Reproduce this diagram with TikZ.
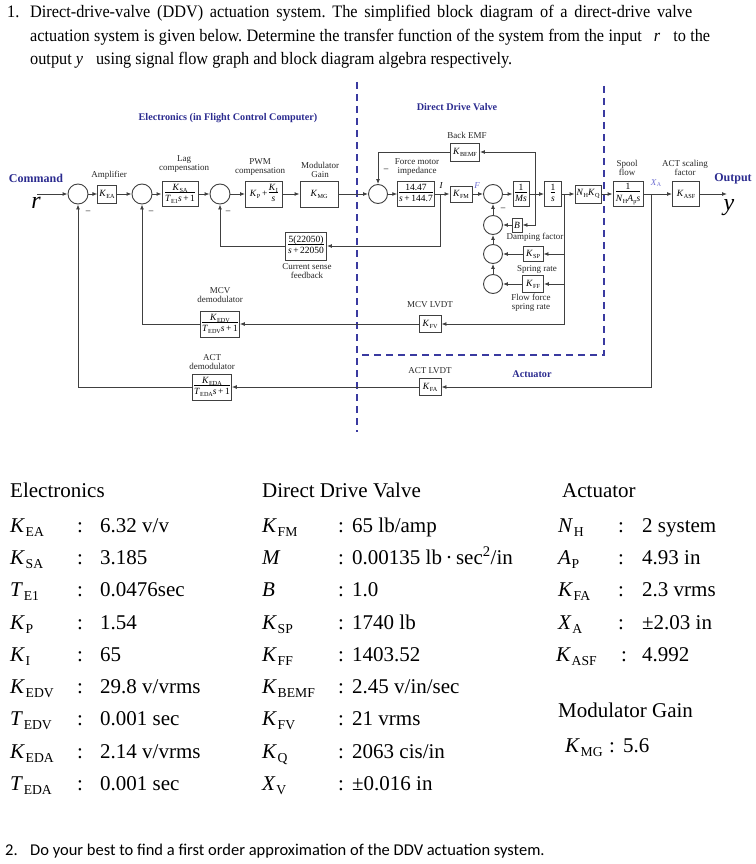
\documentclass[tikz,border=0pt]{standalone}
\usepackage{fontspec}
\setmainfont{Liberation Serif}
\newfontfamily\condf[FakeStretch=0.93]{Liberation Serif}
\newfontfamily\carl{Carlito}
\usetikzlibrary{arrows.meta}
\definecolor{ln}{HTML}{404040}
\definecolor{dblue}{HTML}{2B2B8F}
\definecolor{lblue}{HTML}{6B6BD0}
\definecolor{dashc}{HTML}{3A3AA0}
\newcommand\sub[1]{\raisebox{-0.45ex}{\scalebox{0.65}{#1}}}
\newcommand\KK[2]{\textit{#1}\kern0.03em\sub{#2}}
\newcommand\fr[2]{\begin{tabular}{@{}c@{}}#1\\[-1.5pt]\hline\rule{0pt}{1.05em}#2\end{tabular}}
\tikzset{
  blk/.style={draw=ln, line width=0.9pt, fill=white, inner sep=1.5pt, font=\fontsize{9.5}{10}\selectfont},
  sumc/.style={draw=ln, line width=0.9pt, circle, minimum size=19pt, inner sep=0pt},
  ar/.style={-{Latex[length=5pt,width=4pt]}, draw=ln, line width=0.9pt},
  lbl/.style={font=\fontsize{9}{9.5}\selectfont, align=center, text=black!85},
  ttl/.style={font=\fontsize{10.2}{11}\selectfont\bfseries, text=dblue},
  big/.style={font=\fontsize{12}{13}\selectfont\bfseries, text=dblue},
  dsh/.style={draw=dashc, line width=1.2pt, dash pattern=on 7pt off 5pt},
  top/.style={anchor=base west, inner sep=0pt, font=\fontsize{17.5}{20}\condf\frenchspacing},
  tb/.style={anchor=base west, inner sep=0pt, font=\fontsize{21}{24}\selectfont},
  minus/.style={font=\fontsize{9}{10}\selectfont}
}
\begin{document}
\begin{tikzpicture}[x=1pt,y=-1pt]
\useasboundingbox (0,0) rectangle (755,864);
% ---------- question text
\node[top] (q1n) at (7,18) {1.};
\node[top] (q1a) at (30,18) {\makebox[662pt][s]{Direct-drive-valve (DDV) actuation system. The simplified block diagram of a direct-drive valve}};
\node[top] (q1b) at (30,42) {\makebox[680pt][s]{actuation system is given below. Determine the transfer function of the system from the input\hspace{12pt}\textit{r}\hspace{13pt}to the}};
\node[top] (q1c) at (30,65) {output \textit{y}\hspace{13pt}using signal flow graph and block diagram algebra respectively.};
% ---------- region boundaries
\draw[dsh] (357,82) -- (357,432);
\draw[dsh] (604,86) -- (604,355) -- (362,355);
\node[ttl] (tE) at (228,118) {Electronics (in Flight Control Computer)};
\node[ttl] (tD) at (457,107) {Direct Drive Valve};
\node[ttl] (tA) at (532,374) {Actuator};
\node[big] (cmd) at (36,178) {Command};
\node[big] (outl) at (733,179) {Output};
\node[font=\fontsize{24}{24}\selectfont\itshape] (rr) at (36,203) {r};
\node[font=\fontsize{24}{24}\selectfont\itshape] (yy) at (729,208) {y};
% ---------- forward path
\coordinate (in) at (37,194);
\node[sumc, minimum size=20pt] (s1) at (78,194) {};
\node[blk, minimum width=17, minimum height=18] (bEA) at (107,194) {\KK{K}{EA}};
\node[sumc, minimum size=20pt] (s2) at (142,194) {};
\node[blk, minimum width=36, minimum height=25] (bLag) at (180,194) {\fr{\KK{K}{SA}}{\KK{T}{E1}\textit{s}\,+\,1}};
\node[sumc, minimum size=20pt] (s3) at (220,194) {};
\node[blk, minimum width=37, minimum height=26] (bPWM) at (264,194) {\KK{K}{P}\,+\,\fr{\KK{K}{I}}{\textit{s}}};
\node[blk, minimum width=38, minimum height=26] (bMG) at (319,194) {\KK{K}{MG}};
\node[sumc] (s4) at (378,194) {};
\node[blk, minimum width=36, minimum height=23] (bFMI) at (416,194) {\fr{14.47}{\textit{s}\,+\,144.7}};
\coordinate (jI) at (440,194);
\node[blk, minimum width=22, minimum height=16] (bFM) at (461,194) {\KK{K}{FM}};
\node[sumc] (s5) at (493,194) {};
\node[blk, minimum width=16, minimum height=23] (bMs) at (521,194) {\fr{1}{\textit{Ms}}};
\coordinate (jv) at (535,194);
\node[blk, minimum width=17, minimum height=24] (bInt) at (553,194) {\fr{1}{\textit{s}}};
\coordinate (jp) at (564,194);
\node[blk, minimum width=26, minimum height=18] (bNQ) at (588,194) {\KK{N}{H}\KK{K}{Q}};
\node[blk, minimum width=30, minimum height=25] (bSp) at (628,194) {\fr{1}{\KK{N}{H}\KK{A}{p}\textit{s}}};
\coordinate (jx) at (651,194);
\node[blk, minimum width=27, minimum height=25] (bASF) at (686,194) {\KK{K}{ASF}};
\coordinate (out) at (727,194);
\draw[ar] (in) -- (s1);
\draw[ar] (s1) -- (bEA);
\draw[ar] (bEA) -- (s2);
\draw[ar] (s2) -- (bLag);
\draw[ar] (bLag) -- (s3);
\draw[ar] (s3) -- (bPWM);
\draw[ar] (bPWM) -- (bMG);
\draw[ar] (bMG) -- (s4);
\draw[ar] (s4) -- (bFMI);
\draw[ar] (bFMI) -- (bFM);
\draw[ar] (bFM) -- (s5);
\draw[ar] (s5) -- (bMs);
\draw[ar] (bMs) -- (bInt);
\draw[ar] (bInt) -- (bNQ);
\draw[ar] (bNQ) -- (bSp);
\draw[ar] (bSp) -- (bASF);
\draw[ar] (bASF) -- (out);
% signal labels
\node[font=\fontsize{9}{10}\selectfont\itshape] (lI) at (441,186) {I};
\node[font=\fontsize{9}{10}\selectfont\itshape, text=lblue] (lF) at (477,186) {F};
\node[font=\fontsize{9}{10}\selectfont, text=lblue] (lX) at (656,183) {\KK{X}{A}};
% ---------- block labels
\node[lbl] (Lamp) at (109,175) {Amplifier};
\node[lbl] (Llag) at (184,164) {Lag\\compensation};
\node[lbl] (Lpwm) at (260,167) {PWM\\compensation};
\node[lbl] (Lmg) at (320,170) {Modulator\\Gain};
\node[lbl] (Lfmi) at (417,167) {Force motor\\impedance};
\node[lbl] (Lsp) at (627,168) {Spool\\flow};
\node[lbl] (Lasf) at (685,168) {ACT scaling\\factor};
% ---------- DDV inner loops
\node[blk, minimum width=29, minimum height=18] (bBEMF) at (465,152) {\KK{K}{BEMF}};
\node[lbl] (Lbemf) at (467,135) {Back EMF};
\draw[ar] (jv) |- (bBEMF.east);
\draw[ar] (bBEMF.west) -| (s4.north);
\node[sumc] (s6) at (493,225) {};
\node[sumc] (s7) at (493,254) {};
\node[sumc] (s8) at (493,284) {};
\node[blk, minimum width=10, minimum height=14] (bB) at (517,225) {\textit{B}};
\node[blk, minimum width=20, minimum height=15] (bSP) at (533,254) {\KK{K}{SP}};
\node[blk, minimum width=21, minimum height=17] (bFF) at (533,284) {\KK{K}{FF}};
\draw[ar] (jv) |- (bB.east);
\draw[ar] (bB) -- (s6);
\draw[ar] (jp) |- (bSP.east);
\draw[ar] (jp) |- (bFF.east);
\draw[ar] (bSP) -- (s7);
\draw[ar] (bFF) -- (s8);
\draw[ar] (s8) -- (s7);
\draw[ar] (s7) -- (s6);
\draw[ar] (s6) -- (s5);
\node[lbl] (Ldamp) at (535,237) {Damping factor};
\node[lbl] (Lspr) at (537,269) {Spring rate};
\node[lbl] (Lff) at (531,303) {Flow force\\spring rate};
% ---------- feedback paths
\node[blk, minimum width=41, minimum height=28] (bCS) at (306,246) {\fr{5(22050)}{\textit{s}\,+\,22050}};
\node[lbl] (Lcs) at (307,271) {Current sense\\feedback};
\draw[ar] (jI) |- (bCS.east);
\draw[ar] (bCS.west) -| (s3.south);
\node[blk, minimum width=22, minimum height=17] (bFV) at (430,324) {\KK{K}{FV}};
\node[lbl] (Lfv) at (430,305) {MCV LVDT};
\node[blk, minimum width=36, minimum height=26] (bEDV) at (220,324) {\fr{\KK{K}{EDV}}{\KK{T}{EDV}\textit{s}\,+\,1}};
\node[lbl] (Ledv) at (220,295) {MCV\\demodulator};
\draw[ar] (jp) |- (bFV.east);
\draw[ar] (bFV) -- (bEDV);
\draw[ar] (bEDV.west) -| (s2.south);
\node[blk, minimum width=22, minimum height=17] (bFA) at (430,387) {\KK{K}{FA}};
\node[lbl] (Lfa) at (430,371) {ACT LVDT};
\node[blk, minimum width=37, minimum height=26] (bEDA) at (212,387) {\fr{\KK{K}{EDA}}{\KK{T}{EDA}\textit{s}\,+\,1}};
\node[lbl] (Leda) at (212,362) {ACT\\demodulator};
\draw[ar] (jx) |- (bFA.east);
\draw[ar] (bFA) -- (bEDA);
\draw[ar] (bEDA.west) -| (s1.south);
% minus signs
\node[minus] (m1) at (88,212) {--};
\node[minus] (m2) at (151,212) {--};
\node[minus] (m3) at (228,212) {--};
\node[minus] (m4) at (386,170) {--};
\node[minus] (m5) at (503,209) {--};
% ---------- parameter table: Electronics
\node[tb] (hE) at (10,497) {Electronics};
\node[tb] (e1) at (10,532) {\KK{K}{EA}};   \node[tb] (e1c) at (77,532) {:}; \node[tb] (e1v) at (100,532) {6.32 v/v};
\node[tb] (e2) at (10,564) {\KK{K}{SA}};   \node[tb] (e2c) at (77,564) {:}; \node[tb] (e2v) at (100,564) {3.185};
\node[tb] (e3) at (10,596) {\KK{T}{E1}};   \node[tb] (e3c) at (77,596) {:}; \node[tb] (e3v) at (100,596) {0.0476sec};
\node[tb] (e4) at (10,629) {\KK{K}{P}};    \node[tb] (e4c) at (77,629) {:}; \node[tb] (e4v) at (100,629) {1.54};
\node[tb] (e5) at (10,661) {\KK{K}{I}};    \node[tb] (e5c) at (77,661) {:}; \node[tb] (e5v) at (100,661) {65};
\node[tb] (e6) at (10,693) {\KK{K}{EDV}};  \node[tb] (e6c) at (77,693) {:}; \node[tb] (e6v) at (100,693) {29.8 v/vrms};
\node[tb] (e7) at (10,725) {\KK{T}{EDV}};  \node[tb] (e7c) at (77,725) {:}; \node[tb] (e7v) at (100,725) {0.001 sec};
\node[tb] (e8) at (10,758) {\KK{K}{EDA}};  \node[tb] (e8c) at (77,758) {:}; \node[tb] (e8v) at (100,758) {2.14 v/vrms};
\node[tb] (e9) at (10,790) {\KK{T}{EDA}};  \node[tb] (e9c) at (77,790) {:}; \node[tb] (e9v) at (100,790) {0.001 sec};
% Direct Drive Valve
\node[tb] (hD) at (262,497) {Direct Drive Valve};
\node[tb] (d1) at (262,532) {\KK{K}{FM}};   \node[tb] (d1c) at (338,532) {:}; \node[tb] (d1v) at (352,532) {65 lb/amp};
\node[tb] (d2) at (262,564) {\textit{M}};    \node[tb] (d2c) at (338,564) {:}; \node[tb] (d2v) at (352,564) {0.00135 lb\,\textperiodcentered\,sec\textsuperscript{2}/in};
\node[tb] (d3) at (262,596) {\textit{B}};    \node[tb] (d3c) at (338,596) {:}; \node[tb] (d3v) at (352,596) {1.0};
\node[tb] (d4) at (262,629) {\KK{K}{SP}};   \node[tb] (d4c) at (338,629) {:}; \node[tb] (d4v) at (352,629) {1740 lb};
\node[tb] (d5) at (262,661) {\KK{K}{FF}};   \node[tb] (d5c) at (338,661) {:}; \node[tb] (d5v) at (352,661) {1403.52};
\node[tb] (d6) at (262,693) {\KK{K}{BEMF}}; \node[tb] (d6c) at (338,693) {:}; \node[tb] (d6v) at (352,693) {2.45 v/in/sec};
\node[tb] (d7) at (262,725) {\KK{K}{FV}};   \node[tb] (d7c) at (338,725) {:}; \node[tb] (d7v) at (352,725) {21 vrms};
\node[tb] (d8) at (262,758) {\KK{K}{Q}};    \node[tb] (d8c) at (338,758) {:}; \node[tb] (d8v) at (352,758) {2063 cis/in};
\node[tb] (d9) at (262,790) {\KK{X}{V}};    \node[tb] (d9c) at (338,790) {:}; \node[tb] (d9v) at (352,790) {±0.016 in};
% Actuator
\node[tb] (hA) at (562,497) {Actuator};
\node[tb] (a1) at (558,532) {\KK{N}{H}};    \node[tb] (a1c) at (618,532) {:}; \node[tb] (a1v) at (642,532) {2 system};
\node[tb] (a2) at (558,564) {\KK{A}{P}};    \node[tb] (a2c) at (618,564) {:}; \node[tb] (a2v) at (642,564) {4.93 in};
\node[tb] (a3) at (558,596) {\KK{K}{FA}};   \node[tb] (a3c) at (618,596) {:}; \node[tb] (a3v) at (642,596) {2.3 vrms};
\node[tb] (a4) at (558,629) {\KK{X}{A}};    \node[tb] (a4c) at (618,629) {:}; \node[tb] (a4v) at (642,629) {±2.03 in};
\node[tb] (a5) at (556,661) {\KK{K}{ASF}};  \node[tb] (a5c) at (621,661) {:}; \node[tb] (a5v) at (642,661) {4.992};
\node[tb] (hM) at (558,717) {Modulator Gain};
\node[tb] (m1v) at (565,752) {\KK{K}{MG}};  \node[tb] (mgc) at (609,752) {:}; \node[tb] (mgv) at (623,752) {5.6};
% ---------- question 2
\node[anchor=base west, inner sep=0pt, font=\fontsize{16.5}{18}\carl] (q2n) at (5,855) {2.};
\node[anchor=base west, inner sep=0pt, font=\fontsize{16.5}{18}\carl] (q2) at (30,855) {Do your best to find a first order approximation of the DDV actuation system.};
\end{tikzpicture}
\end{document}
